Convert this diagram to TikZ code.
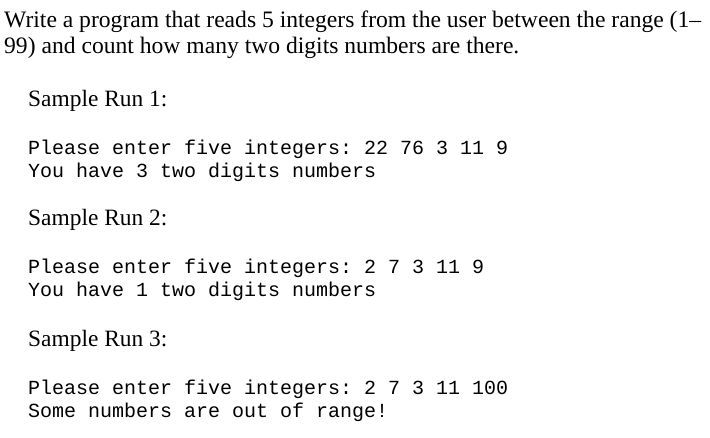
\documentclass[tikz,border=0pt]{standalone}
\usepackage{fontspec}
\setmainfont{Liberation Serif}
\setmonofont{Liberation Mono}
\begin{document}
\begin{tikzpicture}[x=1pt,y=1pt,
  head/.style={anchor=base west,inner sep=0pt,font=\fontsize{23.6}{28}\selectfont},
  txt/.style={anchor=base west,inner sep=0pt,font=\fontsize{23.4}{28}\selectfont},
  code/.style={anchor=base west,inner sep=0pt,font=\ttfamily\fontsize{20}{23}\selectfont}]
\useasboundingbox[fill=white] (0,0) rectangle (710,-437);
\node[head] (l1) at (4,-27) {Write a program that reads 5 integers from the user between the range (1–};
\node[head] (l2) at (4,-53) {99) and count how many two digits numbers are there.};
\node[txt] (s1) at (28,-106) {Sample Run 1:};
\node[code] (c11) at (28,-154) {Please enter five integers: 22 76 3 11 9};
\node[code] (c12) at (28,-177) {You have 3 two digits numbers};
\node[txt] (s2) at (28,-225) {Sample Run 2:};
\node[code] (c21) at (28,-273) {Please enter five integers: 2 7 3 11 9};
\node[code] (c22) at (28,-296) {You have 1 two digits numbers};
\node[txt] (s3) at (28,-346) {Sample Run 3:};
\node[code] (c31) at (28,-394) {Please enter five integers: 2 7 3 11 100};
\node[code] (c32) at (28,-417) {Some numbers are out of range!};
\end{tikzpicture}
\end{document}
